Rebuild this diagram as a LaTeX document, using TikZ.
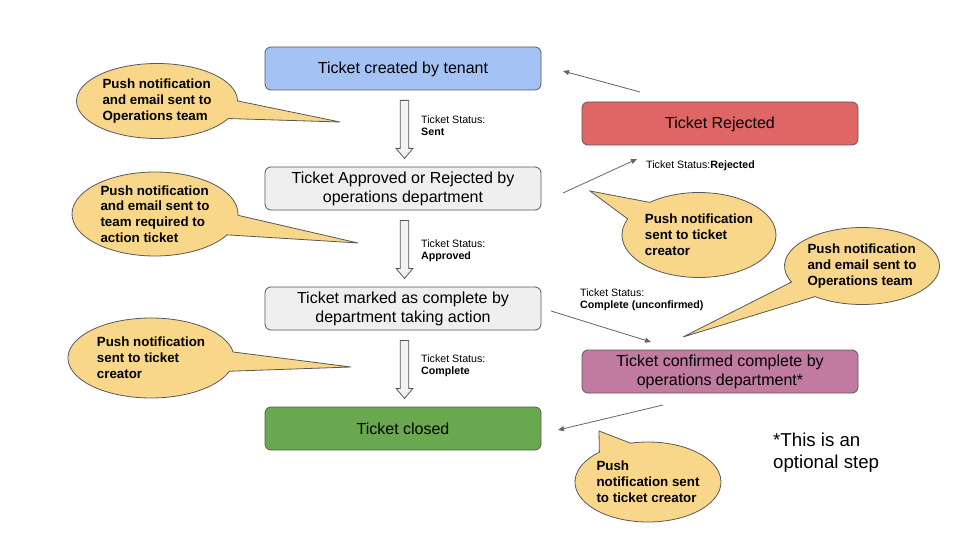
\documentclass[tikz,border=0pt]{standalone}
\usepackage{fontspec}
\setmainfont{Liberation Sans}
\usetikzlibrary{shapes.callouts,arrows.meta,calc}
\definecolor{bord}{HTML}{595959}
\definecolor{cblue}{HTML}{A4C2F4}
\definecolor{cgray}{HTML}{EFEFEF}
\definecolor{cgreen}{HTML}{6AA84F}
\definecolor{cred}{HTML}{E06666}
\definecolor{cpurple}{HTML}{C27BA0}
\definecolor{cyel}{HTML}{F8D78A}
\definecolor{arrowfill}{HTML}{F3F3F3}
\definecolor{lineg}{HTML}{666666}
\tikzset{
  stepbox/.style={rectangle, rounded corners=6pt, draw=bord, line width=0.8pt,
    minimum width=276pt, minimum height=43pt, align=center, inner sep=0pt,
    font=\fontsize{16}{19}\selectfont},
  oneline/.style={text height=14pt, text depth=3pt},
  bubble/.style={ellipse callout, draw=bord, fill=cyel, line width=0.8pt,
    inner sep=0pt, align=left, callout pointer arc=28,
    font=\fontsize{13.33}{15.8}\selectfont\bfseries},
  status/.style={anchor=north west, inner sep=0pt, align=left,
    font=\fontsize{10.67}{12.8}\selectfont},
  thin/.style={draw=lineg, line width=0.8pt, -{Triangle[length=6pt,width=5pt]}},
  blk/.pic={\draw[draw=bord, fill=arrowfill, line width=0.8pt]
    (-4.25,0) -- (-4.25,48) -- (-8.5,48) -- (0,58) -- (8.5,48) -- (4.25,48) -- (4.25,0) -- cycle;}
}
\begin{document}
\begin{tikzpicture}[x=1pt,y=-1pt]
\useasboundingbox[fill=white] (0,0) rectangle (960,540);

% main boxes
\node[stepbox, oneline, fill=cblue] (a) at (403,68.5) {Ticket created by tenant};
\node[stepbox, fill=cgray] (b) at (403,188.5) {Ticket Approved or Rejected by\\operations department};
\node[stepbox, fill=cgray] (c) at (403,308.5) {Ticket marked as complete by\\department taking action};
\node[stepbox, oneline, fill=cgreen] (d) at (403,428.5) {Ticket closed};
\node[stepbox, oneline, fill=cred] (r) at (720,123.5) {Ticket Rejected};
\node[stepbox, fill=cpurple] (p) at (720,371.5) {Ticket confirmed complete by\\operations department*};

% block arrows
\path (a.south) ++(1.5,10) pic {blk};
\path (b.south) ++(1.5,10) pic {blk};
\path (c.south) ++(1.5,10) pic {blk};

% status labels
\node[status] (s1) at (421,115.2) {Ticket Status:\\\textbf{Sent}};
\node[status] (s2) at (421,239.2) {Ticket Status:\\\textbf{Approved}};
\node[status] (s3) at (421,354.2) {Ticket Status:\\\textbf{Complete}};
\node[status] (s4) at (580,288.2) {Ticket Status:\\\textbf{Complete (unconfirmed)}};
\node[status] (s5) at (646,160.2) {Ticket Status:\textbf{Rejected}};

% thin arrows
\coordinate (r1) at (640,92);
\coordinate (a1) at (563,71);
\coordinate (b1) at (563,193);
\coordinate (r2) at (637,159);
\coordinate (c1) at (551,311);
\coordinate (p1) at (651,342);
\coordinate (p2) at (663,405);
\coordinate (d1) at (558,430);
\draw[thin] (r1) -- (a1);
\draw[thin] (b1) -- (r2);
\draw[thin] (c1) -- (p1);
\draw[thin] (p2) -- (d1);

% callouts
\node[bubble, minimum width=161pt, minimum height=75pt,
  callout absolute pointer={(340,122)}] (n1) at (157,101)
  {Push notification\\and email sent to\\Operations team};
\node[bubble, minimum width=166pt, minimum height=84pt,
  callout absolute pointer={(358,243)}] (n2) at (155,214)
  {Push notification\\and email sent to\\team required to\\action ticket};
\node[bubble, minimum width=166pt, minimum height=80pt,
  callout absolute pointer={(351,367)}] (n3) at (151,358)
  {Push notification\\sent to ticket\\creator};
\node[bubble, minimum width=154pt, minimum height=85pt,
  callout absolute pointer={(590,191)}] (n4) at (699,235)
  {Push notification\\sent to ticket\\creator};
\node[bubble, minimum width=155pt, minimum height=77pt,
  callout absolute pointer={(683,337)}] (n5) at (862,266)
  {Push notification\\and email sent to\\Operations team};
\node[bubble, minimum width=146pt, minimum height=80pt,
  callout absolute pointer={(599,431)}] (n6) at (648,482)
  {Push\\notification sent\\to ticket creator};

% note
\node[anchor=north west, inner sep=0pt, align=left,
  font=\fontsize{18.67}{22}\selectfont] (note) at (773,432.4)
  {*This is an\\optional step};
\end{tikzpicture}
\end{document}
